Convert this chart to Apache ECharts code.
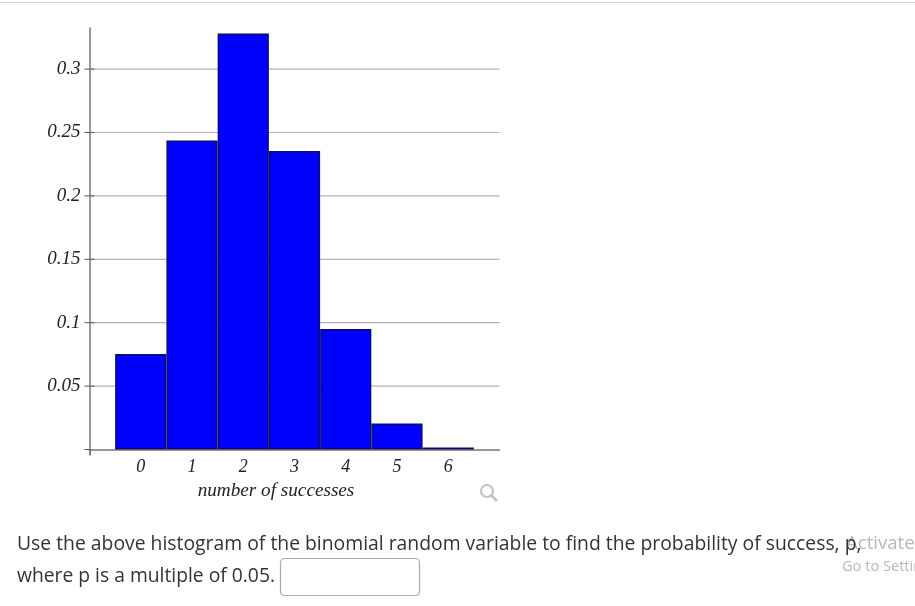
<!DOCTYPE html>
<html>
<head>
<meta charset="utf-8">
<style>
html, body { margin: 0; padding: 0; background: #fff; }
#main { width: 915px; height: 606px; }
</style>
<script src="https://cdn.jsdelivr.net/npm/echarts@6/dist/echarts.min.js"></script>
</head>
<body>
<div id="main"></div>
<script>
var successes = [0, 1, 2, 3, 4, 5, 6];
var probabilities = [0.0753, 0.2437, 0.328, 0.2354, 0.095, 0.0205, 0.0016];
var yTicks = [0.05, 0.1, 0.15, 0.2, 0.25, 0.3];
var yTickLabels = ['0.05', '0.1', '0.15', '0.2', '0.25', '0.3'];
var xTitle = 'number of successes';
var questionLine1 = 'Use the above histogram of the binomial random variable to find the probability of success, p,';
var questionLine2 = 'where p is a multiple of 0.05.';

var myChart = echarts.init(document.getElementById('main'), null, { renderer: 'canvas' });

var serif = '"Liberation Serif", serif';
var sans = '"Open Sans", sans-serif';

var option = {
    animation: false,
    backgroundColor: '#fff',
    grid: { left: 89.5, right: 415.5, top: 28, height: 421.5, containLabel: false },
    xAxis: {
        type: 'value',
        min: -1,
        max: 7,
        interval: 1,
        splitLine: { show: false },
        axisLine: { onZero: false, lineStyle: { color: '#777', width: 1.5 } },
        axisTick: { show: true, customValues: [-1], length: 6, lineStyle: { color: '#555', width: 1.5 } },
        axisLabel: {
            customValues: successes,
            formatter: function (v) { return String(v); },
            margin: 9,
            fontFamily: serif,
            fontStyle: 'italic',
            fontSize: 18,
            color: '#222'
        }
    },
    yAxis: {
        type: 'value',
        min: 0,
        max: 0.3324,
        splitLine: { show: false },
        axisLine: { onZero: false, lineStyle: { color: '#777', width: 1.5 } },
        axisTick: { show: false },
        axisLabel: {
            customValues: yTicks,
            formatter: function (v) { return yTickLabels[yTicks.indexOf(v)]; },
            margin: 9,
            padding: [2, 0, 0, 0],
            fontFamily: serif,
            fontStyle: 'italic',
            fontSize: 19,
            color: '#222'
        }
    },
    series: [
        {
            // the horizontal gridlines and the ticks on the y axis
            type: 'custom',
            silent: true,
            z: 1,
            data: [0].concat(yTicks).map(function (v) { return [v]; }),
            encode: { y: 0 },
            renderItem: function (params, api) {
                var v = api.value(0);
                var p = api.coord([-1, v]);
                var end = api.coord([7, v]);
                return {
                    type: 'group',
                    children: [
                        {
                            type: 'line',
                            shape: { x1: p[0], y1: p[1], x2: end[0], y2: end[1] },
                            style: { stroke: v === 0 ? 'transparent' : '#b4b4b4', lineWidth: 1.2 }
                        },
                        {
                            type: 'line',
                            shape: { x1: p[0] - 5, y1: p[1], x2: p[0] + 5 * (v === 0 ? 0 : 1), y2: p[1] },
                            style: { stroke: '#555', lineWidth: 1 }
                        }
                    ]
                };
            }
        },
        {
            type: 'bar',
            z: 2,
            barWidth: 51.2,
            itemStyle: { color: '#0000ff', borderColor: '#0d0d66', borderWidth: 1.4 },
            data: successes.map(function (s, i) { return [s, probabilities[i]]; })
        }
    ],
    graphic: [
        { type: 'rect', shape: { x: 0, y: 2, width: 915, height: 1 }, style: { fill: '#d4d4d4' } },
        { type: 'text', x: 276, y: 491, style: { text: xTitle, font: 'italic 19.2px ' + serif, fill: '#222', textAlign: 'center', textVerticalAlign: 'middle' } },
        { type: 'circle', shape: { cx: 487, cy: 491, r: 6 }, style: { fill: 'none', stroke: '#c4c4c4', lineWidth: 2.2 } },
        { type: 'line', shape: { x1: 491.5, y1: 495.5, x2: 497, y2: 501 }, style: { stroke: '#c4c4c4', lineWidth: 2.6 } },
        { type: 'text', x: 846, y: 544, style: { text: 'Activate', font: '18.6px ' + sans, fill: '#b8b8b8', textVerticalAlign: 'middle' } },
        { type: 'text', x: 842, y: 567, style: { text: 'Go to Settings', font: '14.6px ' + sans, fill: '#b8b8b8', textVerticalAlign: 'middle' } },
        { type: 'text', x: 17, y: 544, style: { text: questionLine1, font: '19.35px ' + sans, fill: '#333', textVerticalAlign: 'middle' } },
        { type: 'text', x: 17, y: 577, style: { text: questionLine2, font: '19.3px ' + sans, fill: '#333', textVerticalAlign: 'middle' } },
        { type: 'rect', shape: { x: 280.5, y: 558.5, width: 139, height: 37, r: 4 }, style: { fill: '#fff', stroke: '#aaa', lineWidth: 1.2 } }
    ]
};

myChart.setOption(option);
</script>
</body>
</html>
